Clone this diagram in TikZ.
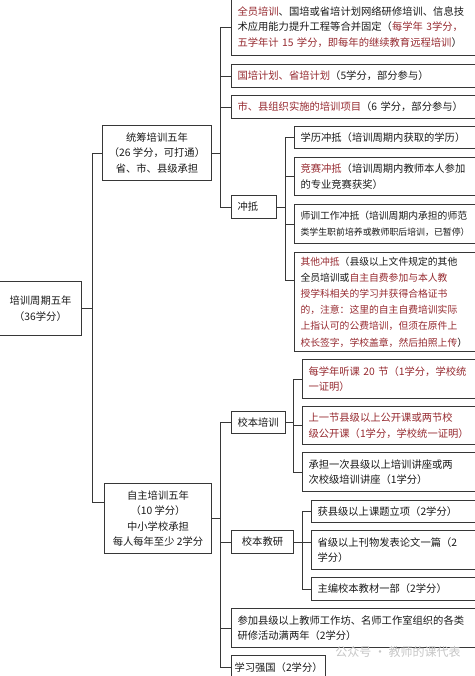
\documentclass[tikz,border=0pt]{standalone}
\usepackage{fontspec}
\setmainfont{Noto Sans CJK SC}
\usepackage{tikz}
\definecolor{kred}{RGB}{150,42,48}
\definecolor{linegray}{RGB}{55,55,55}
\definecolor{txtgray}{RGB}{25,25,25}
\newcommand{\fs}{\fontsize{10.3}{15.5}\selectfont}
\newcommand{\redt}[1]{\textcolor{kred}{#1}}

\begin{document}
\begin{tikzpicture}[x=1pt, y=-1pt,
    box/.style={draw=linegray, line width=1pt, anchor=north west, inner xsep=6pt, inner ysep=1pt, font=\fs, text=txtgray},
    wbox/.style={box, align=left, text width=#1},
    cbox/.style={box, align=center},
    conn/.style={draw=linegray, line width=0.8pt}]
    \useasboundingbox (0,0) rectangle (474,676);

    % Root and its two halves
    \node[cbox, minimum width=82pt, minimum height=54pt] (root) at (-1,281) {培训周期五年\\（36学分）};
    \node[cbox, minimum width=109pt, minimum height=55pt] (tc) at (102,125) {统筹培训五年\\（26 学分，可打通）\\省、市、县级承担};
    \node[cbox, minimum width=107pt, minimum height=70pt] (zz) at (104,483) {自主培训五年\\（10 学分）\\中小学校承担\\每人每年至少 2学分};

    % Upper half
    \node[wbox=242pt, minimum height=57pt] (a1) at (231,-2) {\redt{全员培训}、国培或省培计划网络研修培训、信息技\\术应用能力提升工程等合并固定（\redt{每学年 3学分，}\\\redt{五学年计 15 学分，即每年的继续教育远程培训}）};
    \node[wbox=242pt, minimum height=23pt] (a2) at (231,64) {\redt{国培计划、省培计划}（5学分，部分参与）};
    \node[wbox=242pt, minimum height=23pt] (a3) at (231,95) {\redt{市、县组织实施的培训项目}（6 学分，部分参与）};
    \node[wbox=33pt, minimum height=23pt] (cd) at (231,195) {冲抵};

    % Offsets
    \node[wbox=179pt, minimum height=22pt] (b1) at (294,126) {学历冲抵（培训周期内获取的学历）};
    \node[wbox=179pt, minimum height=38pt] (b2) at (294,157) {\redt{竞赛冲抵}（培训周期内教师本人参加\\的专业竞赛获奖）};
    \node[wbox=179pt, minimum height=39pt, font=\fontsize{9.8}{15.5}\selectfont] (b3) at (294,204) {师训工作冲抵（培训周期内承担的师范\\{\fontsize{8.9}{15.5}\selectfont 类学生职前培养或教师职后培训，已暂停）}};
    \node[wbox=179pt, minimum height=99pt, font=\fontsize{9.8}{16.2}\selectfont] (b4) at (294,252) {\redt{其他冲抵}（县级以上文件规定的其他\\全员培训或\redt{自主自费参加与本人教}\\\redt{授学科相关的学习并获得合格证书}\\\redt{的，注意：这里的自主自费培训实际}\\\redt{上指认可的公费培训，但须在原件上}\\\redt{校长签字，学校盖章，然后拍照上传}）};

    % Lower half
    \node[wbox=42pt, minimum height=22pt] (kb) at (231,411) {校本培训};
    \node[cbox, minimum width=62pt, minimum height=23pt] (ky) at (231,530) {校本教研};
    \node[wbox=242pt, minimum height=39pt] (e1) at (231,608) {参加县级以上教师工作坊、名师工作室组织的各类\\研修活动满两年（2学分）};
    \node[cbox, minimum width=94pt, minimum height=24pt, inner xsep=3pt] (e2) at (231,655) {学习强国（2学分）};

    \node[wbox=171pt, minimum height=39pt] (c1) at (302,359) {\redt{每学年听课 20 节（1学分，学校统}\\\redt{一证明）}};
    \node[wbox=171pt, minimum height=38pt] (c2) at (302,406) {\redt{上一节县级以上公开课或两节校}\\\redt{级公开课（1学分，学校统一证明）}};
    \node[wbox=171pt, minimum height=39pt] (c3) at (302,452) {承担一次县级以上培训讲座或两\\次校级培训讲座（1学分）};

    \node[wbox=162pt, minimum height=22pt] (d1) at (311,500) {获县级以上课题立项（2学分）};
    \node[wbox=162pt, minimum height=39pt] (d2) at (311,530) {省级以上刊物发表论文一篇（2\\学分）};
    \node[wbox=162pt, minimum height=23pt] (d3) at (311,577) {主编校本教材一部（2学分）};

    % Watermark
    \node[text=gray!45, font=\fontsize{12}{12}\selectfont] (wm) at (398,652) {公众号 · 教师的课代表};

    % Bus lines
    \coordinate (bus0) at (92,0);
    \coordinate (bus1) at (220,0);
    \coordinate (bus2) at (285,0);
    \coordinate (bus3) at (220,0);
    \coordinate (bus4) at (293,0);
    \coordinate (bus5) at (302,0);
    \coordinate (zt) at ([yshift=16pt]zz.west);
    \coordinate (b4t) at ([yshift=-28pt]b4.north west);

    % Connectors
    \draw[conn] (root.east) -- (bus0 |- root.east);
    \draw[conn] (tc.west) -- (bus0 |- tc.west) -- (bus0 |- zt) -- (zt);

    \draw[conn] (tc.east) -- (bus1 |- tc.east);
    \draw[conn] (a1.west) -- (bus1 |- a1.west) -- (bus1 |- cd.west) -- (cd.west);
    \foreach \n in {a2,a3}
        \draw[conn] (bus1 |- \n.west) -- (\n.west);

    \draw[conn] (cd.east) -- (bus2 |- cd.east);
    \draw[conn] (b1.west) -- (bus2 |- b1.west) -- (bus2 |- b4t) -- (b4t);
    \foreach \n in {b2,b3}
        \draw[conn] (bus2 |- \n.west) -- (\n.west);

    \draw[conn] (zz.east) -- (bus3 |- zz.east);
    \draw[conn] (kb.west) -- (bus3 |- kb.west) -- (bus3 |- e2.west) -- (e2.west);
    \foreach \n in {ky,e1}
        \draw[conn] (bus3 |- \n.west) -- (\n.west);

    \draw[conn] (kb.east) -- (bus4 |- kb.east);
    \draw[conn] (c1.west) -- (bus4 |- c1.west) -- (bus4 |- c3.west) -- (c3.west);
    \draw[conn] (bus4 |- c2.west) -- (c2.west);

    \draw[conn] (ky.east) -- (bus5 |- ky.east);
    \draw[conn] (d1.west) -- (bus5 |- d1.west) -- (bus5 |- d3.west) -- (d3.west);
    \draw[conn] (bus5 |- ky.east) -- (d2.west |- ky.east);
\end{tikzpicture}
\end{document}
